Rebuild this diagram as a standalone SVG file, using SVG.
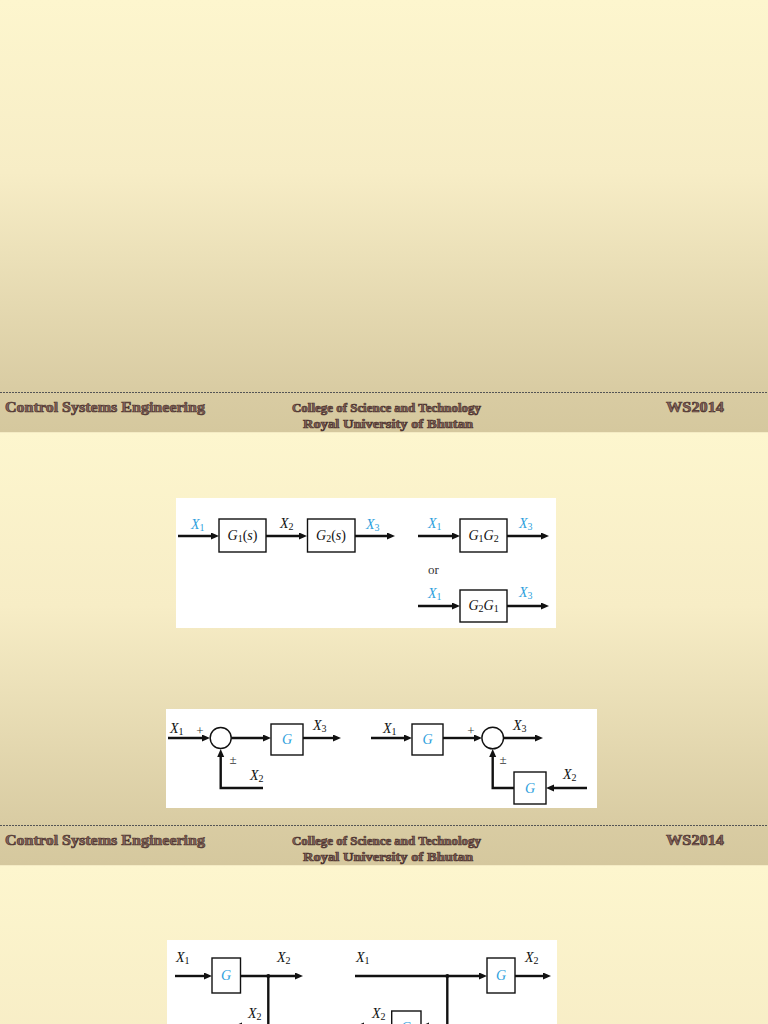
<svg xmlns="http://www.w3.org/2000/svg" width="768" height="1024" viewBox="0 0 768 1024">
<defs>
<linearGradient id="bg" x1="0" y1="0" x2="0" y2="1">
<stop offset="0" stop-color="#FDF6CE"/>
<stop offset="0.4" stop-color="#F7EDC6"/>
<stop offset="0.9" stop-color="#D9CCA3"/>
<stop offset="1" stop-color="#D5C89E"/>
</linearGradient>
<marker id="ah" markerUnits="userSpaceOnUse" markerWidth="9" markerHeight="8" refX="1" refY="3.5" orient="auto">
<path d="M0,0 L8,3.5 L0,7 z" fill="#111"/>
</marker>
</defs>
<style>
.ft{font-family:"Liberation Serif",serif;font-weight:bold;fill:#86665e;stroke:#4e3530;stroke-width:0.7}
.dot{stroke:#555;stroke-width:1;stroke-dasharray:2 1}
.panel{fill:#fff}
.box{fill:#fff;stroke:#111;stroke-width:1.4}
.ln{fill:none;stroke:#111;stroke-width:2.4}
.ar{fill:none;stroke:#111;stroke-width:2.4;marker-end:url(#ah)}
.thin{fill:none;stroke:#111;stroke-width:1.4}
.lb{font-family:"Liberation Serif",serif;font-style:italic;font-size:14px;fill:#111}
.bl{fill:#2E9FDD}
.sub{font-style:normal;font-size:10px}
.up{font-family:"Liberation Serif",serif;font-size:13px;fill:#333}
</style>
<!-- slides background -->
<rect x="0" y="0" width="768" height="432" fill="url(#bg)"/>
<rect x="0" y="433" width="768" height="432" fill="url(#bg)"/>
<rect x="0" y="866" width="768" height="432" fill="url(#bg)"/>
<rect x="0" y="432" width="768" height="1" fill="#F4EBC4"/>
<rect x="0" y="865" width="768" height="1" fill="#F4EBC4"/>
<!-- footers -->
<g id="footer1">
<line class="dot" x1="0" y1="392.5" x2="768" y2="392.5"/>
<text class="ft" x="5" y="412" font-size="15" textLength="200" lengthAdjust="spacingAndGlyphs">Control Systems Engineering</text>
<text class="ft" x="292" y="412" font-size="12" textLength="189" lengthAdjust="spacingAndGlyphs">College of Science and Technology</text>
<text class="ft" x="303" y="428" font-size="12" textLength="170" lengthAdjust="spacingAndGlyphs">Royal University of Bhutan</text>
<text class="ft" x="666" y="412" font-size="15" textLength="58" lengthAdjust="spacingAndGlyphs">WS2014</text>
</g>
<g id="footer2">
<line class="dot" x1="0" y1="825.5" x2="768" y2="825.5"/>
<text class="ft" x="5" y="845" font-size="15" textLength="200" lengthAdjust="spacingAndGlyphs">Control Systems Engineering</text>
<text class="ft" x="292" y="845" font-size="12" textLength="189" lengthAdjust="spacingAndGlyphs">College of Science and Technology</text>
<text class="ft" x="303" y="861" font-size="12" textLength="170" lengthAdjust="spacingAndGlyphs">Royal University of Bhutan</text>
<text class="ft" x="666" y="845" font-size="15" textLength="58" lengthAdjust="spacingAndGlyphs">WS2014</text>
</g>
<!-- Diagram 1 -->
<rect class="panel" x="176" y="498" width="380" height="130"/>
<g id="d1-connectors">
<path class="ar" d="M178,536 H212"/>
<path class="ar" d="M266,536 H300"/>
<path class="ar" d="M355,536 H388"/>
<path class="ar" d="M418,536 H453"/>
<path class="ar" d="M507,536 H542"/>
<path class="ar" d="M418,606 H453"/>
<path class="ar" d="M507,606 H542"/>
</g>
<g id="d1-G1s">
<rect class="box" x="219" y="519" width="47" height="33"/>
<text class="lb" x="242.5" y="540" text-anchor="middle">G<tspan class="sub" dy="2">1</tspan><tspan dy="-2" font-style="normal">(</tspan>s<tspan font-style="normal">)</tspan></text>
</g>
<g id="d1-G2s">
<rect class="box" x="307.5" y="519" width="47.5" height="33"/>
<text class="lb" x="331" y="540" text-anchor="middle">G<tspan class="sub" dy="2">2</tspan><tspan dy="-2" font-style="normal">(</tspan>s<tspan font-style="normal">)</tspan></text>
</g>
<g id="d1-G1G2">
<rect class="box" x="460" y="519" width="47" height="33"/>
<text class="lb" x="483.5" y="540" text-anchor="middle">G<tspan class="sub" dy="2">1</tspan><tspan dy="-2">G</tspan><tspan class="sub" dy="2">2</tspan></text>
</g>
<g id="d1-G2G1">
<rect class="box" x="460" y="590" width="47" height="32"/>
<text class="lb" x="483.5" y="610" text-anchor="middle">G<tspan class="sub" dy="2">2</tspan><tspan dy="-2">G</tspan><tspan class="sub" dy="2">1</tspan></text>
</g>
<g id="d1-labels">
<text class="lb bl" x="191" y="529">X<tspan class="sub" dy="2">1</tspan></text>
<text class="lb" x="280" y="528">X<tspan class="sub" dy="2">2</tspan></text>
<text class="lb bl" x="366" y="529">X<tspan class="sub" dy="2">3</tspan></text>
<text class="lb bl" x="428" y="528">X<tspan class="sub" dy="2">1</tspan></text>
<text class="lb bl" x="519" y="528">X<tspan class="sub" dy="2">3</tspan></text>
<text class="up" x="428" y="574">or</text>
<text class="lb bl" x="428" y="598">X<tspan class="sub" dy="2">1</tspan></text>
<text class="lb bl" x="519" y="597">X<tspan class="sub" dy="2">3</tspan></text>
</g>
<!-- Diagram 2 -->
<rect class="panel" x="166" y="709" width="431" height="99"/>
<g id="d2-connectors">
<path class="ar" d="M168,738 H203"/>
<path class="ar" d="M231.2,738 H264"/>
<path class="ar" d="M303,738 H334"/>
<path class="ar" d="M263,788 H220.7 V756"/>
<path class="ar" d="M371,738 H405"/>
<path class="ar" d="M443,738 H475"/>
<path class="ar" d="M503.5,738 H536"/>
<path class="ar" d="M514,788 H492.7 V756"/>
<path class="ar" d="M587,788 H553"/>
</g>
<g id="d2-sum1">
<circle class="thin" cx="220.7" cy="738" r="10.5"/>
<text class="up" x="200" y="735" text-anchor="middle" font-size="15">+</text>
<text class="up" x="233" y="764" text-anchor="middle" font-size="14">±</text>
</g>
<g id="d2-G1">
<rect class="box" x="271" y="724" width="32" height="31"/>
<text class="lb bl" x="287" y="744" text-anchor="middle">G</text>
</g>
<g id="d2-G2">
<rect class="box" x="412" y="724" width="31" height="31"/>
<text class="lb bl" x="427.5" y="744" text-anchor="middle">G</text>
</g>
<g id="d2-sum2">
<circle class="thin" cx="492.7" cy="738" r="10.8"/>
<text class="up" x="471" y="735" text-anchor="middle" font-size="15">+</text>
<text class="up" x="503" y="764" text-anchor="middle" font-size="14">±</text>
</g>
<g id="d2-G3">
<rect class="box" x="514" y="772" width="32" height="32"/>
<text class="lb bl" x="530" y="793" text-anchor="middle">G</text>
</g>
<g id="d2-labels">
<text class="lb" x="170" y="733">X<tspan class="sub" dy="2">1</tspan></text>
<text class="lb" x="313" y="730">X<tspan class="sub" dy="2">3</tspan></text>
<text class="lb" x="250" y="780">X<tspan class="sub" dy="2">2</tspan></text>
<text class="lb" x="383" y="733">X<tspan class="sub" dy="2">1</tspan></text>
<text class="lb" x="513" y="730">X<tspan class="sub" dy="2">3</tspan></text>
<text class="lb" x="563" y="779">X<tspan class="sub" dy="2">2</tspan></text>
</g>
<!-- Diagram 3 -->
<rect class="panel" x="167" y="940" width="390" height="90"/>
<g id="d3-connectors">
<path class="ar" d="M175,976 H205"/>
<path class="ar" d="M240.5,976 H296"/>
<path class="ln" d="M268.3,976 V1030"/>
<circle cx="268.3" cy="976" r="2" fill="#111"/>
<path class="ar" d="M268.3,1026 H241"/>
<path class="ar" d="M355,976 H480"/>
<path class="ln" d="M447.3,976 V1030"/>
<circle cx="447.3" cy="976" r="2" fill="#111"/>
<path class="ar" d="M515,976 H544"/>
<path class="ar" d="M447.3,1026 H428"/>
<path class="ar" d="M391.7,1026 H363"/>
</g>
<g id="d3-G1">
<rect class="box" x="212" y="958" width="28.5" height="35"/>
<text class="lb bl" x="226" y="980" text-anchor="middle">G</text>
</g>
<g id="d3-G2">
<rect class="box" x="487" y="958" width="28" height="35"/>
<text class="lb bl" x="501" y="980" text-anchor="middle">G</text>
</g>
<g id="d3-G3">
<rect class="box" x="391.7" y="1011" width="29.3" height="30"/>
<text class="lb bl" x="406" y="1032" text-anchor="middle">G</text>
</g>
<g id="d3-labels">
<text class="lb" x="176" y="962">X<tspan class="sub" dy="2">1</tspan></text>
<text class="lb" x="277" y="962">X<tspan class="sub" dy="2">2</tspan></text>
<text class="lb" x="248" y="1018">X<tspan class="sub" dy="2">2</tspan></text>
<text class="lb" x="356" y="962">X<tspan class="sub" dy="2">1</tspan></text>
<text class="lb" x="525" y="962">X<tspan class="sub" dy="2">2</tspan></text>
<text class="lb" x="372" y="1018">X<tspan class="sub" dy="2">2</tspan></text>
</g>
</svg>
